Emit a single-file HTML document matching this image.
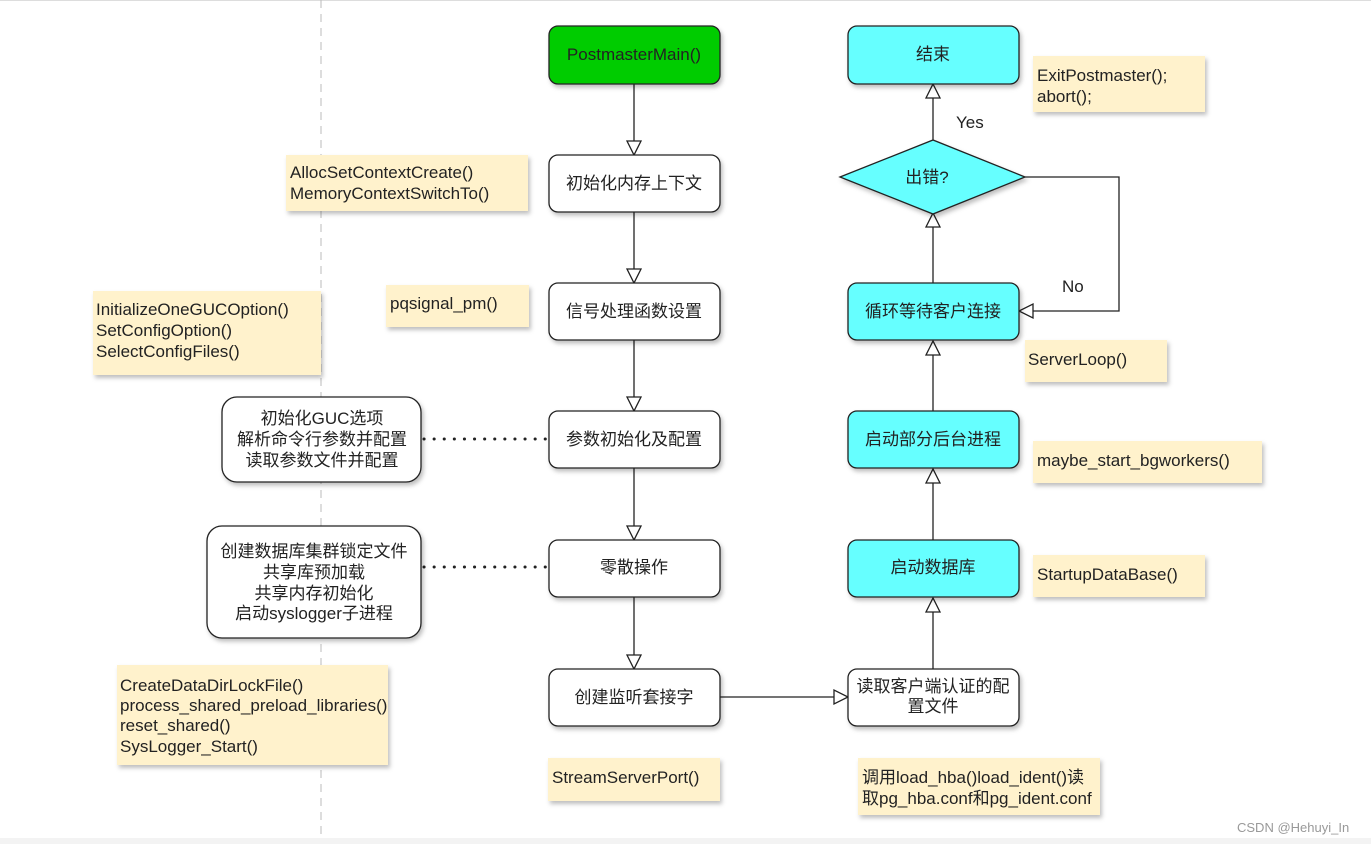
<!DOCTYPE html>
<html><head><meta charset="utf-8"><style>
html,body{margin:0;padding:0;background:#fff;}
svg text{font-family:"Liberation Sans","Noto Sans CJK SC",sans-serif;font-size:17px;fill:#222;}
</style></head><body>
<svg width="1371" height="844" viewBox="0 0 1371 844" xmlns="http://www.w3.org/2000/svg">
<defs>
<filter id="sh" x="-10%" y="-10%" width="130%" height="140%"><feDropShadow dx="2" dy="3" stdDeviation="2" flood-color="#000" flood-opacity="0.25"/></filter>
</defs>
<rect x="0" y="0" width="1371" height="1" fill="#ddd"/>
<line x1="321" y1="0" x2="321" y2="844" stroke="#bbb" stroke-dasharray="8,6"/>
<rect x="0" y="838" width="1371" height="6" fill="#f3f3f3"/>

<g filter="url(#sh)" fill="#fff2cc">
<rect x="286" y="155" width="242" height="56"/>
<rect x="386" y="285" width="143" height="42"/>
<rect x="93" y="291" width="228" height="84"/>
<rect x="117" y="665" width="271" height="100"/>
<rect x="548" y="758" width="172" height="43"/>
<rect x="1033" y="56" width="172" height="56"/>
<rect x="1025" y="340" width="142" height="42"/>
<rect x="1033" y="441" width="229" height="42"/>
<rect x="1033" y="555" width="172" height="42"/>
<rect x="858" y="758" width="242" height="57"/>
</g>
<text x="290" y="178">AllocSetContextCreate()</text>
<text x="290" y="199">MemoryContextSwitchTo()</text>
<text x="390" y="309">pqsignal_pm()</text>
<text x="96" y="315">InitializeOneGUCOption()</text>
<text x="96" y="336">SetConfigOption()</text>
<text x="96" y="357">SelectConfigFiles()</text>
<text x="120" y="691">CreateDataDirLockFile()</text>
<text x="120" y="711">process_shared_preload_libraries()</text>
<text x="120" y="731">reset_shared()</text>
<text x="120" y="752">SysLogger_Start()</text>
<text x="552" y="783">StreamServerPort()</text>
<text x="1037" y="81">ExitPostmaster();</text>
<text x="1037" y="102">abort();</text>
<text x="1028" y="365">ServerLoop()</text>
<text x="1037" y="466">maybe_start_bgworkers()</text>
<text x="1037" y="580">StartupDataBase()</text>
<text x="862" y="783">调用load_hba()load_ident()读</text>
<text x="862" y="804">取pg_hba.conf和pg_ident.conf</text>

<g stroke="#222" stroke-width="1.3" fill="none">
<line x1="634" y1="84" x2="634" y2="141"/>
<line x1="634" y1="212" x2="634" y2="269"/>
<line x1="634" y1="340" x2="634" y2="397"/>
<line x1="634" y1="468" x2="634" y2="526"/>
<line x1="634" y1="597" x2="634" y2="655"/>
<line x1="720" y1="697" x2="834" y2="697"/>
<line x1="933" y1="669" x2="933" y2="612"/>
<line x1="933" y1="540" x2="933" y2="483"/>
<line x1="933" y1="411" x2="933" y2="355"/>
<line x1="933" y1="283" x2="933" y2="227"/>
<line x1="933" y1="140" x2="933" y2="98"/>
<polyline points="1025,177 1119,177 1119,311 1033,311"/>
</g>
<g stroke="#222" stroke-width="1.3" fill="#fff">
<polygon points="627,141 641,141 634,155"/>
<polygon points="627,269 641,269 634,283"/>
<polygon points="627,397 641,397 634,411"/>
<polygon points="627,526 641,526 634,540"/>
<polygon points="627,655 641,655 634,669"/>
<polygon points="834,690 834,704 848,697"/>
<polygon points="926,612 940,612 933,598"/>
<polygon points="926,483 940,483 933,469"/>
<polygon points="926,355 940,355 933,341"/>
<polygon points="926,227 940,227 933,213"/>
<polygon points="926,98 940,98 933,84"/>
<polygon points="1033,304 1033,318 1019,311"/>
</g>
<g stroke="#222" stroke-width="3" stroke-dasharray="0.1,10" stroke-linecap="round">
<line x1="424" y1="439" x2="548" y2="439"/>
<line x1="424" y1="567" x2="548" y2="567"/>
</g>

<g stroke="#222" stroke-width="1.3" filter="url(#sh)">
<rect x="549" y="26" width="171" height="58" rx="9" fill="#00cc00"/>
<rect x="549" y="155" width="171" height="57" rx="9" fill="#fff"/>
<rect x="549" y="283" width="171" height="57" rx="9" fill="#fff"/>
<rect x="549" y="411" width="171" height="57" rx="9" fill="#fff"/>
<rect x="549" y="540" width="171" height="57" rx="9" fill="#fff"/>
<rect x="549" y="669" width="171" height="57" rx="9" fill="#fff"/>
<rect x="848" y="26" width="171" height="58" rx="9" fill="#66ffff"/>
<polygon points="840,177 933,140 1025,177 933,214" fill="#66ffff"/>
<rect x="848" y="283" width="171" height="57" rx="9" fill="#66ffff"/>
<rect x="848" y="411" width="171" height="57" rx="9" fill="#66ffff"/>
<rect x="848" y="540" width="171" height="57" rx="9" fill="#66ffff"/>
<rect x="848" y="669" width="171" height="57" rx="9" fill="#fff"/>
<rect x="222" y="397" width="199" height="85" rx="15" fill="#fff"/>
<rect x="207" y="526" width="214" height="112" rx="15" fill="#fff"/>
</g>
<g text-anchor="middle">
<text x="634" y="60">PostmasterMain()</text>
<text x="634" y="189">初始化内存上下文</text>
<text x="634" y="317">信号处理函数设置</text>
<text x="634" y="445">参数初始化及配置</text>
<text x="634" y="573">零散操作</text>
<text x="634" y="703">创建监听套接字</text>
<text x="933" y="60">结束</text>
<text x="927" y="183">出错?</text>
<text x="933" y="317">循环等待客户连接</text>
<text x="933" y="445">启动部分后台进程</text>
<text x="933" y="573">启动数据库</text>
<text x="933" y="692">读取客户端认证的配</text>
<text x="933" y="712">置文件</text>
<text x="322" y="424">初始化GUC选项</text>
<text x="322" y="445">解析命令行参数并配置</text>
<text x="322" y="466">读取参数文件并配置</text>
<text x="314" y="557">创建数据库集群锁定文件</text>
<text x="314" y="578">共享库预加载</text>
<text x="314" y="599">共享内存初始化</text>
<text x="314" y="619">启动syslogger子进程</text>
</g>
<text x="956" y="128">Yes</text>
<text x="1062" y="292">No</text>
<text x="1237" y="832" style="font-size:13px;fill:#999">CSDN @Hehuyi_In</text>
</svg>
</body></html>
